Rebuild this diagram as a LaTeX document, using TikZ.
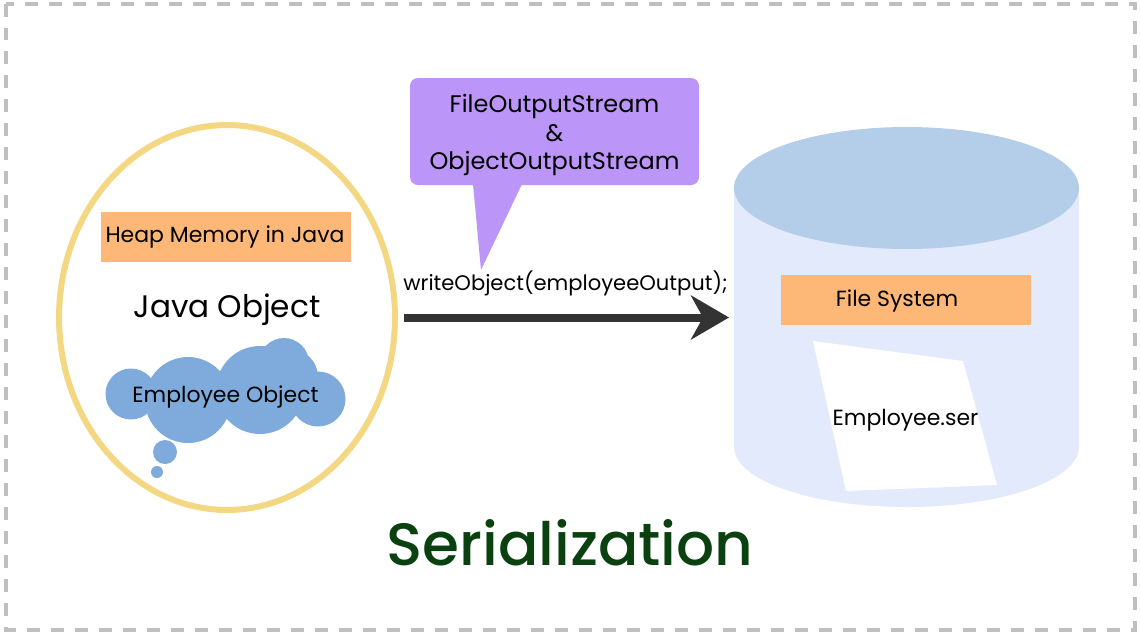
\documentclass[tikz,border=0pt]{standalone}
\usepackage{fontspec}
\setmainfont{Poppins}
\newfontfamily\titlefont{Poppins Medium}
\usetikzlibrary{arrows.meta,shapes.geometric}
\definecolor{ringcol}{HTML}{F3D782}
\definecolor{heapcol}{HTML}{FDB777}
\definecolor{cloudcol}{HTML}{7EABDB}
\definecolor{bubblecol}{HTML}{BC95F8}
\definecolor{lidcol}{HTML}{B4CEE9}
\definecolor{drumcol}{HTML}{E3EAFB}
\definecolor{titlecol}{HTML}{0B4110}
\colorlet{framecol}{black!25!white}
\colorlet{flowcol}{black!80!white}
\tikzstyle{frame}=[draw=framecol, line width=0.08cm, dash pattern=on 0.26cm off 0.22cm]
\tikzstyle{ring}=[ellipse, draw=ringcol, line width=0.12cm, minimum width=6.72cm, minimum height=7.7cm, inner sep=0pt]
\tikzstyle{tag}=[rectangle, fill=heapcol, minimum width=5cm, minimum height=1cm, inner sep=0pt]
\tikzstyle{puff}=[fill=cloudcol]
\tikzstyle{lid}=[ellipse, fill=lidcol, minimum width=6.9cm, minimum height=2.44cm, inner sep=0pt]
\tikzstyle{flow}=[line width=0.16cm, flowcol, -{Stealth[length=0.76cm, width=0.88cm, inset=0.24cm]}]
\tikzstyle{txt}=[inner sep=0pt, align=center, black]

\begin{document}
\begin{tikzpicture}[x=0.02cm, y=-0.02cm]
	\useasboundingbox (0, 0) rectangle (1140, 633);
	\fill[white] (0, 0) rectangle (1140, 633);
	\draw[frame] (6, 3.5) rectangle (1135, 630);

	% Object side
	\node[ring] (heap) at (227, 317.5) {};
	\node[tag] (heaptag) at (226, 237) {};
	\node[txt, font=\fontsize{12.5}{15}\selectfont] (heaplabel) at (225, 237) {Heap Memory in Java};
	\node[txt, font=\fontsize{17.7}{20}\selectfont] (objlabel) at (227, 310) {Java Object};

	% Cloud
	\fill[puff] (131, 394) circle (25.5) (188, 400) circle (43) (260, 390) circle (44);
	\fill[puff] (284, 363) circle (25) (290, 377) circle (28) (318, 399) circle (27.5);
	\fill[puff] (165, 452) circle (12) (157, 472) circle (6);
	\node[txt, font=\fontsize{12.5}{15}\selectfont] (cloudlabel) at (225.5, 396.5) {Employee Object};

	% Callout
	\fill[bubblecol, rounded corners=0.16cm] (410, 78) rectangle (699, 185);
	\fill[bubblecol] (473, 184) -- (522, 184) -- (481, 270) -- cycle;
	\node[txt, font=\fontsize{13.65}{16.4}\selectfont] (bubble) at (554.5, 135) {FileOutputStream\\\&\\ObjectOutputStream};

	% Drum
	\fill[drumcol] (734, 188) -- (1079, 188) -- (1079, 447) arc (0:180:172.5 and 60) -- cycle;
	\node[lid] (drum) at (906.5, 188) {};
	\node[tag] (fstag) at (906, 300) {};
	\node[txt, font=\fontsize{12.5}{15}\selectfont] (fslabel) at (897, 301) {File System};
	\fill[white] (813, 341) -- (963, 361) -- (997, 485) -- (846, 491) -- cycle;
	\node[txt, font=\fontsize{12.5}{15}\selectfont] (serlabel) at (905.5, 420.5) {Employee.ser};

	% Arrow
	\coordinate (flowstart) at (404, 317.5);
	\coordinate (flowend) at (729, 317.5);
	\draw[flow] (flowstart) -- (flowend);
	\node[txt, font=\fontsize{12}{15}\selectfont] (flowlabel) at (565.5, 283) {writeObject(employeeOutput);};

	\node[txt, text=titlecol, font=\titlefont\fontsize{34}{40}\selectfont] (title) at (570, 543) {Serialization};
\end{tikzpicture}
\end{document}
